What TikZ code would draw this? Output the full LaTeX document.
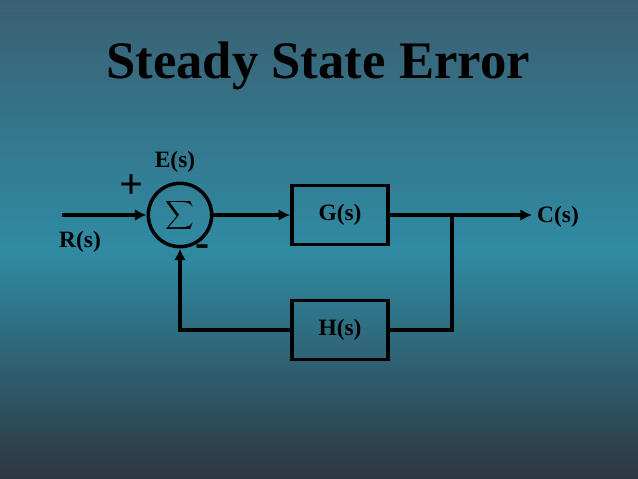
\documentclass[tikz,border=0pt]{standalone}
\usepackage{fontspec}
\setmainfont{Liberation Serif}
\usetikzlibrary{positioning,arrows.meta}
\definecolor{bgtop}{HTML}{3A5F72}
\definecolor{bgmid}{HTML}{2F8BA3}
\definecolor{bgbot}{HTML}{2E3640}
\tikzset{
  block/.style={draw, line width=3pt, minimum width=2.88cm, minimum height=1.77cm, font=\fontsize{20}{22}\selectfont\bfseries},
  sig/.style={line width=3pt, -{Latex[length=10pt,width=10pt]}},
  wire/.style={line width=3pt},
  lbl/.style={font=\fontsize{20}{22}\selectfont\bfseries}
}
\begin{document}
\begin{tikzpicture}[x=0.03cm,y=-0.03cm]
\shade[top color=bgtop, bottom color=bgmid] (0,0) rectangle (638,250);
\shade[top color=bgmid, bottom color=bgbot] (0,250) rectangle (638,479);
\useasboundingbox (0,0) rectangle (638,479);
\node (title) at (318,66) {\fontsize{45}{48}\selectfont\bfseries Steady State Error};
% summing point and blocks
\node[draw, circle, line width=3pt, minimum size=1.9cm, inner sep=0pt] (sum) at (180,215) {\scalebox{1.7}{$\displaystyle\sum$}};
\node[block] (G) at (340,215) {G(s)};
\node[block] (H) at (340,330) {H(s)};
\coordinate (in) at (62,215);
\coordinate (out) at (532,215);
\coordinate (branch) at (452,215);
% signals
\draw[sig] (in) -- (sum.west);
\draw[sig] (sum.east) -- (G.west);
\draw[sig] (G.east) -- (out);
\draw[wire] (branch) |- (H.east);
\draw[sig] (H.west) -| (sum.south);
% labels
\node[lbl] (R) at (80,242) {R(s)};
\node[lbl] (C) at (558,217) {C(s)};
\node[lbl] (E) at (175,162) {E(s)};
\node (plus) at (132,187) {\fontsize{36}{38}\selectfont\bfseries +};
\node (minus) at (203,251) {\fontsize{36}{38}\selectfont\bfseries -};
\end{tikzpicture}
\end{document}
